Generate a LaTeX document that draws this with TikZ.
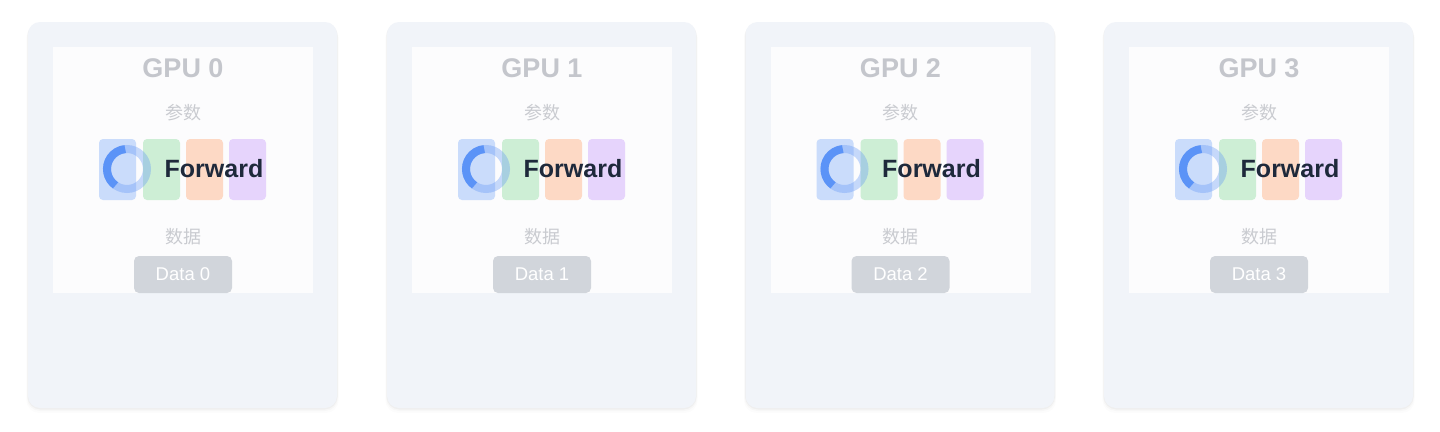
\documentclass[tikz,border=0pt]{standalone}
\usepackage{fontspec}
\setmainfont{Liberation Sans}
\newfontfamily\cjk{Noto Sans CJK SC}
\definecolor{cardbg}{HTML}{F1F4F9}
\definecolor{innerbg}{HTML}{FCFCFD}
\definecolor{titlegray}{HTML}{C4C6CC}
\definecolor{labelgray}{HTML}{C9CBD0}
\definecolor{blkblue}{HTML}{CADCFB}
\definecolor{blkgreen}{HTML}{CDEED5}
\definecolor{blkorange}{HTML}{FDD9C5}
\definecolor{blkpurple}{HTML}{E6D4FC}
\definecolor{ringc}{HTML}{6196F6}
\definecolor{arcc}{HTML}{5B93F7}
\definecolor{fwdc}{HTML}{1E293B}
\definecolor{databg}{HTML}{D1D5DB}
\tikzset{
  card/.style={fill=cardbg, rounded corners=12pt, draw=none},
  innerbox/.style={fill=innerbg, draw=none},
  title/.style={font=\fontsize{27}{30}\selectfont\bfseries, text=titlegray, inner sep=0pt},
  lbl/.style={font=\cjk\fontsize{18}{21}\selectfont, text=labelgray, inner sep=0pt},
  blk/.style={rounded corners=4pt, draw=none},
  fwd/.style={font=\fontsize{25}{28}\selectfont\bfseries, text=fwdc, inner sep=0pt},
  databtn/.style={fill=databg, rounded corners=5pt, draw=none},
  datatxt/.style={font=\fontsize{18.5}{22}\selectfont, text=white, inner sep=0pt},
}
\begin{document}
\begin{tikzpicture}[x=1pt,y=-1pt]
\useasboundingbox (0,0) rectangle (1440,431);
\fill[white] (0,0) rectangle (1440,431);
\foreach \i/\ox in {0/28,1/387,2/745.5,3/1104}{
  % shadow
  \foreach \s/\o in {5/0.012,3/0.02,1.5/0.03}{
    \fill[black, opacity=\o, rounded corners=13pt] (\ox-\s/3,22+\s/2) rectangle (\ox+309+\s/3,408+\s);
  }
  \fill[card] (\ox,22) rectangle (\ox+309,408);
  \fill[innerbox] (\ox+25,47) rectangle (\ox+285,293);
  \node[title] (t\i) at (\ox+155,68) {GPU \i};
  \node[lbl] (p\i) at (\ox+155,113) {参数};
  \fill[blk, blkblue] (\ox+71,139) rectangle (\ox+108,200);
  \fill[blk, blkgreen] (\ox+115,139) rectangle (\ox+152,200);
  \fill[blk, blkorange] (\ox+158,139) rectangle (\ox+195,200);
  \fill[blk, blkpurple] (\ox+201,139) rectangle (\ox+238,200);
  \coordinate (c\i) at (\ox+99,169);
  \draw[ringc, opacity=0.35, line width=8pt] (c\i) circle (20);
  \draw[arcc, line width=8pt] ([shift={(125:20)}]c\i) arc (125:265:20);
  \node[fwd] (f\i) at (\ox+186,169) {Forward};
  \node[lbl] (d\i) at (\ox+155,237) {数据};
  \fill[databtn] (\ox+106,256) rectangle (\ox+204,293);
  \node[datatxt] (dt\i) at (\ox+155,274.5) {Data \i};
}
\end{tikzpicture}
\end{document}
